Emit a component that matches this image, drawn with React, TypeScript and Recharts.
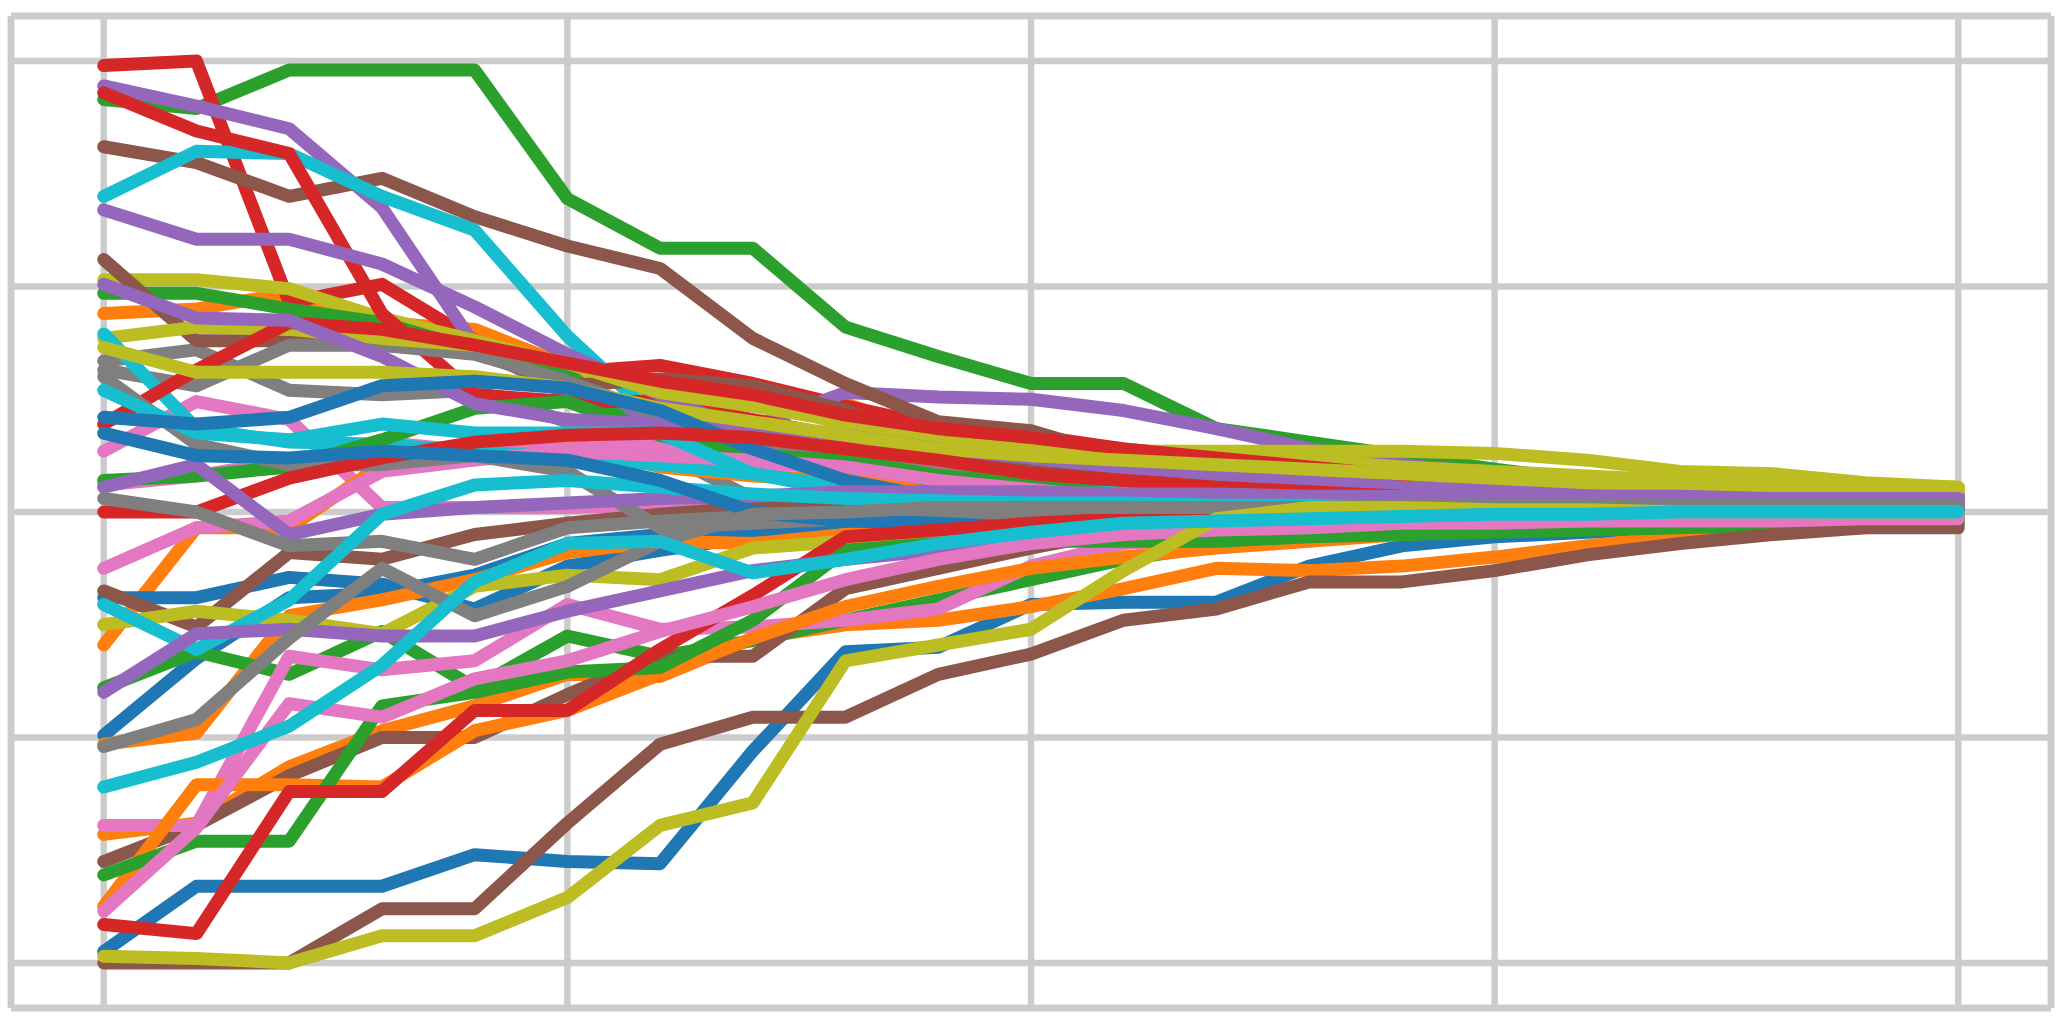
import React from 'react';
import { LineChart, Line, XAxis, YAxis, CartesianGrid, ReferenceLine } from 'recharts';

const steps = [0, 1, 2, 3, 4, 5, 6, 7, 8, 9, 10, 11, 12, 13, 14, 15, 16, 17, 18, 19, 20];
const xTicks = [0, 5, 10, 15, 20];
const yTicks = [-2, -1, 0, 1, 2];
const xDomain = [-1, 21];
const yDomain = [-2.2, 2.2];

const BLUE = '#1f77b4';
const ORANGE = '#ff7f0e';
const GREEN = '#2ca02c';
const RED = '#d62728';
const PURPLE = '#9467bd';
const BROWN = '#8c564b';
const PINK = '#e377c2';
const GRAY = '#7f7f7f';
const OLIVE = '#bcbd22';
const CYAN = '#17becf';

// cycle 0
const blue1 = [-1.95, -1.66, -1.66, -1.66, -1.52, -1.55, -1.56, -1.06, -0.62, -0.60, -0.41, -0.40, -0.40, -0.24, -0.15, -0.11, -0.09, -0.07, -0.06, -0.05, -0.04];
const orange1 = [0.88, 0.90, 0.97, 0.84, 0.81, 0.65, 0.54, 0.51, 0.48, 0.34, 0.21, 0.12, 0.08, 0.05, 0.03, 0.02, 0.00, -0.01, -0.01, -0.02, -0.02];
const green1 = [1.83, 1.79, 1.96, 1.96, 1.96, 1.39, 1.17, 1.17, 0.82, 0.69, 0.57, 0.57, 0.37, 0.31, 0.25, 0.19, 0.14, 0.11, 0.07, 0.04, 0.02];
const red1 = [1.98, 2.00, 0.93, 1.01, 0.76, 0.62, 0.65, 0.57, 0.47, 0.38, 0.34, 0.28, 0.24, 0.19, 0.16, 0.13, 0.10, 0.08, 0.06, 0.04, 0.03];
const purple1 = [1.89, 1.80, 1.70, 1.35, 0.74, 0.52, 0.41, 0.38, 0.53, 0.51, 0.50, 0.45, 0.37, 0.28, 0.21, 0.17, 0.13, 0.11, 0.09, 0.07, 0.07];
const brown1 = [1.62, 1.55, 1.40, 1.48, 1.31, 1.18, 1.08, 0.77, 0.57, 0.40, 0.36, 0.24, 0.18, 0.15, 0.13, 0.11, 0.09, 0.07, 0.06, 0.04, 0.02];
const pink1 = [0.27, 0.49, 0.41, 0.02, 0.02, 0.02, 0.03, 0.05, 0.06, 0.07, 0.07, 0.06, 0.05, 0.04, 0.03, 0.02, 0.01, 0.00, 0.00, -0.01, -0.01];
const gray1 = [0.67, 0.72, 0.54, 0.52, 0.54, 0.40, 0.27, 0.06, 0.00, 0.00, 0.01, 0.01, 0.11, 0.11, 0.10, 0.10, 0.10, 0.10, 0.09, 0.09, 0.09];
const olive1 = [1.03, 1.03, 0.99, 0.86, 0.76, 0.65, 0.52, 0.49, 0.39, 0.31, 0.28, 0.27, 0.27, 0.27, 0.27, 0.26, 0.23, 0.18, 0.17, 0.13, 0.11];
const cyan1 = [1.40, 1.60, 1.59, 1.40, 1.25, 0.78, 0.40, 0.25, 0.16, 0.11, 0.08, 0.06, 0.05, 0.04, 0.04, 0.03, 0.03, 0.03, 0.03, 0.03, 0.03];

// cycle 1
const blue2 = [-0.99, -0.65, -0.38, -0.36, -0.28, -0.14, -0.10, -0.07, -0.05, -0.05, -0.05, -0.04, -0.04, -0.04, -0.04, -0.04, -0.04, -0.04, -0.03, -0.03, -0.03];
const orange2 = [-0.59, -0.07, -0.07, 0.21, 0.30, 0.31, 0.20, 0.16, 0.14, 0.11, 0.09, 0.06, 0.04, 0.02, 0.01, 0.00, -0.01, -0.01, -0.02, -0.02, -0.03];
const green2 = [0.97, 0.97, 0.90, 0.84, 0.72, 0.62, 0.27, 0.24, 0.23, 0.13, 0.11, 0.12, 0.11, 0.10, 0.09, 0.07, 0.06, 0.05, 0.04, 0.04, 0.03];
const red2 = [1.86, 1.69, 1.59, 0.88, 0.52, 0.49, 0.49, 0.41, 0.33, 0.31, 0.28, 0.25, 0.21, 0.18, 0.16, 0.13, 0.11, 0.09, 0.07, 0.05, 0.04];
const purple2 = [1.34, 1.21, 1.21, 1.10, 0.91, 0.70, 0.52, 0.34, 0.25, 0.23, 0.20, 0.18, 0.16, 0.13, 0.11, 0.09, 0.08, 0.07, 0.06, 0.06, 0.05];
const brown2 = [1.12, 0.76, 0.76, 0.74, 0.71, 0.56, 0.59, 0.56, 0.45, 0.27, 0.18, 0.14, 0.12, 0.11, 0.10, 0.09, 0.07, 0.06, 0.05, 0.04, 0.03];
const pink2 = [0.12, 0.16, 0.23, 0.31, 0.27, 0.28, 0.30, 0.21, 0.21, 0.21, 0.12, 0.05, 0.02, 0.01, 0.00, 0.00, 0.00, -0.01, -0.01, -0.01, -0.01];
const gray2 = [0.63, 0.56, 0.74, 0.74, 0.70, 0.58, 0.43, 0.31, 0.23, 0.17, 0.14, 0.13, 0.12, 0.11, 0.10, 0.09, 0.09, 0.08, 0.07, 0.07, 0.07];
const olive2 = [0.77, 0.82, 0.81, 0.77, 0.74, 0.66, 0.53, 0.47, 0.40, 0.31, 0.28, 0.27, 0.25, 0.23, 0.20, 0.18, 0.16, 0.14, 0.13, 0.12, 0.11];
const cyan2 = [0.79, 0.37, 0.31, 0.30, 0.27, 0.24, 0.21, 0.17, 0.11, 0.08, 0.06, 0.05, 0.04, 0.03, 0.03, 0.02, 0.02, 0.02, 0.01, 0.01, 0.01];

// cycle 2
const blue3 = [-0.38, -0.38, -0.29, -0.32, -0.43, -0.24, -0.17, -0.11, -0.08, -0.07, -0.06, -0.05, -0.05, -0.05, -0.04, -0.04, -0.04, -0.04, -0.04, -0.04, -0.04];
const orange3 = [-1.03, -0.98, -0.46, -0.39, -0.30, -0.18, -0.13, -0.14, -0.10, -0.07, -0.05, -0.04, -0.04, -0.03, -0.03, -0.03, -0.03, -0.03, -0.03, -0.03, -0.03];
const green3 = [0.14, 0.16, 0.20, 0.32, 0.46, 0.49, 0.34, 0.25, 0.23, 0.16, 0.13, 0.11, 0.10, 0.08, 0.07, 0.06, 0.04, 0.04, 0.03, 0.03, 0.02];
const red3 = [0.39, 0.63, 0.84, 0.81, 0.74, 0.66, 0.58, 0.52, 0.43, 0.37, 0.33, 0.28, 0.24, 0.20, 0.16, 0.13, 0.11, 0.09, 0.07, 0.05, 0.03];
const purple3 = [1.01, 0.86, 0.85, 0.69, 0.48, 0.41, 0.39, 0.38, 0.34, 0.28, 0.24, 0.20, 0.17, 0.14, 0.11, 0.10, 0.09, 0.07, 0.07, 0.06, 0.06];
const brown3 = [-0.35, -0.51, -0.18, -0.21, -0.10, -0.05, -0.01, 0.02, 0.04, 0.03, 0.02, 0.02, 0.01, 0.00, 0.00, 0.00, -0.01, -0.01, -0.01, -0.01, -0.01];
const pink3 = [-0.25, -0.07, -0.04, 0.18, 0.23, 0.27, 0.25, 0.23, 0.20, 0.14, 0.10, 0.06, 0.04, 0.02, 0.01, 0.00, 0.00, 0.00, -0.01, -0.01, -0.01];
const gray3 = [0.60, 0.30, 0.21, 0.21, 0.25, 0.18, -0.07, -0.05, -0.03, -0.01, 0.01, 0.02, 0.02, 0.02, 0.02, 0.03, 0.03, 0.03, 0.03, 0.03, 0.03];
const olive3 = [0.73, 0.62, 0.62, 0.62, 0.60, 0.55, 0.46, 0.40, 0.34, 0.28, 0.25, 0.23, 0.21, 0.19, 0.17, 0.15, 0.13, 0.12, 0.11, 0.10, 0.10];
const cyan3 = [0.54, 0.35, 0.32, 0.39, 0.35, 0.35, 0.35, 0.17, 0.09, 0.04, 0.07, 0.09, 0.06, 0.08, 0.06, 0.04, 0.04, 0.03, 0.03, 0.03, 0.03];

// cycle 3
const blue4 = [0.42, 0.39, 0.42, 0.56, 0.58, 0.55, 0.45, 0.28, 0.14, 0.06, 0.02, 0.00, -0.01, -0.02, -0.03, -0.03, -0.03, -0.03, -0.03, -0.03, -0.04];
const orange4 = [-1.43, -1.38, -1.13, -0.97, -0.86, -0.72, -0.73, -0.56, -0.50, -0.48, -0.42, -0.34, -0.25, -0.26, -0.24, -0.20, -0.15, -0.11, -0.08, -0.07, -0.05];
const green4 = [-0.78, -0.62, -0.72, -0.53, -0.78, -0.55, -0.64, -0.57, -0.48, -0.39, -0.30, -0.21, -0.15, -0.11, -0.10, -0.08, -0.07, -0.06, -0.05, -0.05, -0.05];
const red4 = [0.00, 0.00, 0.15, 0.24, 0.31, 0.34, 0.35, 0.33, 0.28, 0.23, 0.17, 0.14, 0.11, 0.09, 0.07, 0.05, 0.04, 0.03, 0.03, 0.02, 0.02];
const purple4 = [0.11, 0.21, -0.10, -0.01, 0.02, 0.04, 0.06, 0.07, 0.09, 0.09, 0.09, 0.08, 0.08, 0.07, 0.07, 0.07, 0.07, 0.07, 0.06, 0.06, 0.06];
const brown4 = [-1.55, -1.39, -1.17, -1.00, -1.00, -0.81, -0.64, -0.64, -0.34, -0.25, -0.16, -0.08, -0.07, -0.05, -0.05, -0.04, -0.04, -0.04, -0.04, -0.04, -0.04];
const pink4 = [-1.39, -1.39, -0.64, -0.70, -0.66, -0.41, -0.52, -0.51, -0.48, -0.43, -0.24, -0.14, -0.11, -0.08, -0.05, -0.04, -0.04, -0.03, -0.03, -0.03, -0.02];
const gray4 = [0.06, 0.00, -0.15, -0.13, -0.21, -0.07, -0.04, -0.02, -0.02, -0.01, 0.00, 0.01, 0.02, 0.02, 0.02, 0.02, 0.02, 0.02, 0.02, 0.02, 0.02];
const olive4 = [-0.50, -0.44, -0.48, -0.54, -0.33, -0.28, -0.30, -0.16, -0.13, -0.10, -0.08, -0.07, -0.05, -0.04, -0.04, -0.03, -0.03, -0.02, -0.01, -0.01, -0.01];
const cyan4 = [-0.41, -0.61, -0.39, -0.01, 0.12, 0.14, 0.11, 0.08, 0.06, 0.05, 0.04, 0.04, 0.03, 0.03, 0.02, 0.02, 0.02, 0.02, 0.02, 0.02, 0.02];

// cycle 4
const blue5 = [0.35, 0.25, 0.24, 0.27, 0.25, 0.23, 0.14, 0.00, -0.04, -0.05, -0.07, -0.07, -0.06, -0.05, -0.05, -0.04, -0.04, -0.04, -0.04, -0.04, -0.04];
const orange5 = [-1.75, -1.21, -1.21, -1.22, -0.97, -0.88, -0.72, -0.56, -0.42, -0.33, -0.25, -0.20, -0.16, -0.13, -0.10, -0.08, -0.07, -0.06, -0.05, -0.05, -0.04];
const green5 = [-1.61, -1.46, -1.46, -0.86, -0.80, -0.71, -0.69, -0.48, -0.17, -0.14, -0.13, -0.13, -0.13, -0.11, -0.10, -0.09, -0.08, -0.07, -0.06, -0.05, -0.05];
const red5 = [-1.83, -1.87, -1.24, -1.24, -0.88, -0.88, -0.61, -0.37, -0.11, -0.08, -0.05, -0.03, -0.02, -0.01, 0.00, 0.00, 0.00, 0.00, 0.00, 0.01, 0.01];
const purple5 = [-0.80, -0.54, -0.52, -0.55, -0.55, -0.44, -0.35, -0.26, -0.21, -0.17, -0.14, -0.10, -0.07, -0.04, -0.03, -0.01, 0.00, 0.02, 0.02, 0.03, 0.03];
const brown5 = [-2.00, -2.00, -2.00, -1.76, -1.76, -1.38, -1.03, -0.91, -0.91, -0.72, -0.63, -0.48, -0.43, -0.31, -0.31, -0.26, -0.19, -0.14, -0.10, -0.07, -0.07];
const pink5 = [-1.77, -1.40, -0.85, -0.91, -0.74, -0.66, -0.53, -0.42, -0.30, -0.21, -0.14, -0.10, -0.08, -0.07, -0.05, -0.05, -0.04, -0.04, -0.04, -0.03, -0.03];
const gray5 = [-1.04, -0.92, -0.56, -0.25, -0.46, -0.33, -0.13, -0.01, 0.00, 0.02, 0.02, 0.02, 0.02, 0.02, 0.03, 0.03, 0.03, 0.03, 0.03, 0.03, 0.03];
const olive5 = [-1.97, -1.98, -2.00, -1.88, -1.88, -1.71, -1.39, -1.29, -0.66, -0.59, -0.52, -0.26, -0.03, 0.02, 0.02, 0.01, 0.01, 0.00, 0.00, 0.00, 0.00];
const cyan5 = [-1.22, -1.11, -0.95, -0.68, -0.31, -0.14, -0.13, -0.27, -0.21, -0.14, -0.09, -0.05, -0.04, -0.03, -0.02, -0.01, -0.01, 0.00, 0.00, 0.00, 0.00];

const seriesList = [
  { key: 'blue1', color: BLUE, values: blue1 },
  { key: 'orange1', color: ORANGE, values: orange1 },
  { key: 'green1', color: GREEN, values: green1 },
  { key: 'red1', color: RED, values: red1 },
  { key: 'purple1', color: PURPLE, values: purple1 },
  { key: 'brown1', color: BROWN, values: brown1 },
  { key: 'pink1', color: PINK, values: pink1 },
  { key: 'gray1', color: GRAY, values: gray1 },
  { key: 'olive1', color: OLIVE, values: olive1 },
  { key: 'cyan1', color: CYAN, values: cyan1 },
  { key: 'blue2', color: BLUE, values: blue2 },
  { key: 'orange2', color: ORANGE, values: orange2 },
  { key: 'green2', color: GREEN, values: green2 },
  { key: 'red2', color: RED, values: red2 },
  { key: 'purple2', color: PURPLE, values: purple2 },
  { key: 'brown2', color: BROWN, values: brown2 },
  { key: 'pink2', color: PINK, values: pink2 },
  { key: 'gray2', color: GRAY, values: gray2 },
  { key: 'olive2', color: OLIVE, values: olive2 },
  { key: 'cyan2', color: CYAN, values: cyan2 },
  { key: 'blue3', color: BLUE, values: blue3 },
  { key: 'orange3', color: ORANGE, values: orange3 },
  { key: 'green3', color: GREEN, values: green3 },
  { key: 'red3', color: RED, values: red3 },
  { key: 'purple3', color: PURPLE, values: purple3 },
  { key: 'brown3', color: BROWN, values: brown3 },
  { key: 'pink3', color: PINK, values: pink3 },
  { key: 'gray3', color: GRAY, values: gray3 },
  { key: 'olive3', color: OLIVE, values: olive3 },
  { key: 'cyan3', color: CYAN, values: cyan3 },
  { key: 'blue4', color: BLUE, values: blue4 },
  { key: 'orange4', color: ORANGE, values: orange4 },
  { key: 'green4', color: GREEN, values: green4 },
  { key: 'red4', color: RED, values: red4 },
  { key: 'purple4', color: PURPLE, values: purple4 },
  { key: 'brown4', color: BROWN, values: brown4 },
  { key: 'pink4', color: PINK, values: pink4 },
  { key: 'gray4', color: GRAY, values: gray4 },
  { key: 'olive4', color: OLIVE, values: olive4 },
  { key: 'cyan4', color: CYAN, values: cyan4 },
  { key: 'blue5', color: BLUE, values: blue5 },
  { key: 'orange5', color: ORANGE, values: orange5 },
  { key: 'green5', color: GREEN, values: green5 },
  { key: 'red5', color: RED, values: red5 },
  { key: 'purple5', color: PURPLE, values: purple5 },
  { key: 'brown5', color: BROWN, values: brown5 },
  { key: 'pink5', color: PINK, values: pink5 },
  { key: 'gray5', color: GRAY, values: gray5 },
  { key: 'olive5', color: OLIVE, values: olive5 },
  { key: 'cyan5', color: CYAN, values: cyan5 },
];

const data = steps.map((s, i) => {
  const row: Record<string, number> = { step: s };
  seriesList.forEach((se) => {
    row[se.key] = se.values[i];
  });
  return row;
});

const GRID = '#cccccc';
const GRID_W = 6.5;
const LINE_W = 13;

export default function App() {
  return (
    <div style={{ position: 'absolute', left: 0, top: 0, width: 2066, height: 1024, background: '#ffffff' }}>
      <LineChart width={2066} height={1024} data={data} margin={{ top: 16, right: 15, bottom: 16, left: 11 }}>
        <CartesianGrid stroke={GRID} strokeWidth={GRID_W} horizontal vertical />
        <XAxis dataKey="step" type="number" domain={xDomain} ticks={xTicks} hide allowDataOverflow />
        <YAxis type="number" domain={yDomain} ticks={yTicks} hide allowDataOverflow />
        <ReferenceLine x={xDomain[0]} stroke={GRID} strokeWidth={GRID_W} />
        <ReferenceLine x={xDomain[1]} stroke={GRID} strokeWidth={GRID_W} />
        <ReferenceLine y={yDomain[0]} stroke={GRID} strokeWidth={GRID_W} />
        <ReferenceLine y={yDomain[1]} stroke={GRID} strokeWidth={GRID_W} />
        {seriesList.map((se) => (
          <Line
            key={se.key}
            dataKey={se.key}
            type="linear"
            stroke={se.color}
            strokeWidth={LINE_W}
            strokeLinecap="round"
            strokeLinejoin="round"
            dot={false}
            activeDot={false}
            isAnimationActive={false}
          />
        ))}
      </LineChart>
    </div>
  );
}
